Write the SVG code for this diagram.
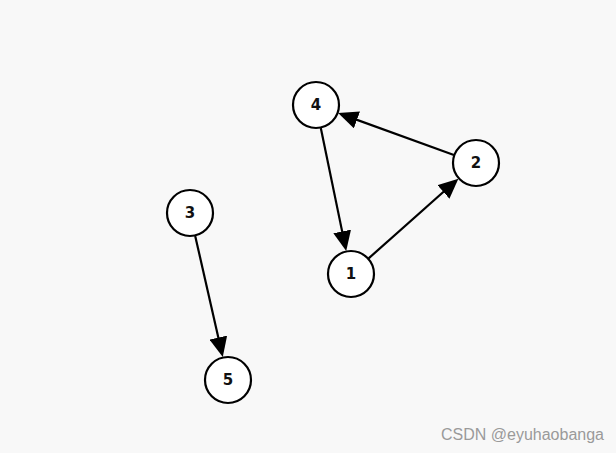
<svg xmlns="http://www.w3.org/2000/svg" width="616" height="453" viewBox="0 0 616 453">
<style>
.node circle{fill:#ffffff;stroke:#000;stroke-width:2.2}
.node text{font-family:"DejaVu Sans",Verdana,sans-serif;font-weight:bold;font-size:15px;text-anchor:middle;dominant-baseline:central;fill:#111}
.edge{stroke:#000;stroke-width:2.2;fill:none}
.wm{font-family:"Liberation Sans",Arial,sans-serif;font-size:16px;fill:#9a9a9a}
</style>
<defs>
<marker id="arr" viewBox="0 0 20 18" refX="16" refY="9" markerWidth="20" markerHeight="18" markerUnits="userSpaceOnUse" orient="auto">
<path d="M0,0 L20,9 L0,18 z" fill="#000"/>
</marker>
</defs>
<rect width="616" height="453" fill="#f8f8f8"/>
<g id="connectors">
<line class="edge" x1="320.8" y1="128.0" x2="345.4" y2="247.1" marker-end="url(#arr)"/>
<line class="edge" x1="368.6" y1="258.4" x2="455.4" y2="181.3" marker-end="url(#arr)"/>
<line class="edge" x1="453.9" y1="155.0" x2="341.9" y2="114.4" marker-end="url(#arr)"/>
<line class="edge" x1="195.2" y1="235.9" x2="221.9" y2="353.2" marker-end="url(#arr)"/>
</g>
<g id="node4" class="node"><circle cx="316" cy="105" r="23"/><text x="316" y="105">4</text></g>
<g id="node2" class="node"><circle cx="476" cy="163" r="23"/><text x="476" y="163">2</text></g>
<g id="node1" class="node"><circle cx="351" cy="274" r="23"/><text x="351" y="274">1</text></g>
<g id="node3" class="node"><circle cx="190" cy="213" r="23"/><text x="190" y="213">3</text></g>
<g id="node5" class="node"><circle cx="228" cy="380" r="23"/><text x="228" y="380">5</text></g>
<text class="wm" x="441" y="440">CSDN @eyuhaobanga</text>
</svg>
